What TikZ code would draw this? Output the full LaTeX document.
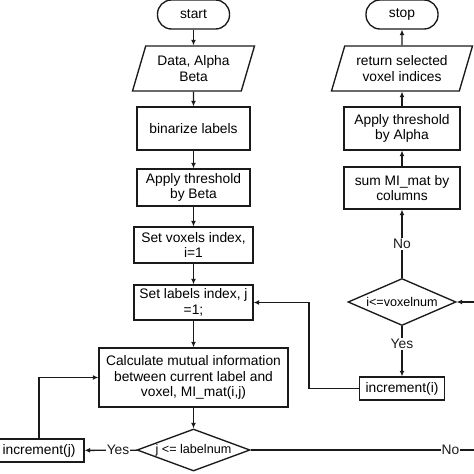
\documentclass[tikz,border=0pt]{standalone}
\usepackage{fontspec}
\setmainfont{Liberation Sans}
\usetikzlibrary{arrows.meta,shapes.geometric}
\definecolor{ink}{HTML}{1A1A1A}
\newcommand{\boxfont}{\fontsize{13.8}{15.8}\selectfont}
\newcommand{\decfont}{\fontsize{12.6}{14}\selectfont}
\tikzset{
  flowarr/.style={-{Latex[length=5.5pt,width=5pt]},line width=1.35pt,color=ink},
  termcard/.style={draw=ink,line width=1.35pt,rounded corners=14pt,minimum width=72pt,minimum height=29pt,inner sep=0pt,font=\boxfont},
  proccard/.style={draw=ink,line width=1.35pt,align=center,inner sep=0pt,font=\boxfont},
  iocard/.style={draw=ink,line width=1.35pt,trapezium,trapezium left angle=63,trapezium right angle=117,trapezium stretches body,align=center,inner sep=0pt,font=\boxfont},
  deccard/.style={draw=ink,line width=1.35pt,diamond,inner sep=0pt,font=\decfont},
  lbl/.style={fill=white,inner sep=1pt,font=\boxfont}
}

\begin{document}
\begin{tikzpicture}[x=1pt,y=-1pt]
  \useasboundingbox (0,0) rectangle (474,474);

  % left column
  \node[termcard] (start) at (193.5,14.5) {start};
  \node[iocard,minimum width=122pt,minimum height=45pt] (data) at (193.5,68.5) {Data, Alpha\\Beta};
  \node[proccard,minimum width=113pt,minimum height=43pt] (bin) at (193.5,128.5) {binarize labels};
  \node[proccard,minimum width=113pt,minimum height=37pt] (beta) at (193.5,187.5) {Apply threshold\\by Beta};
  \node[proccard,minimum width=119pt,minimum height=36pt] (setvox) at (193.5,245) {Set voxels index,\\i=1};
  \node[proccard,minimum width=119pt,minimum height=35pt] (setlab) at (193.5,302.5) {Set labels index, j\\=1;};
  \node[proccard,minimum width=189pt,minimum height=59pt] (calc) at (193.5,377.5) {Calculate mutual information\\between current label and\\voxel, MI\_mat(i,j)};
  \node[deccard,minimum width=113pt,minimum height=42pt] (decj) at (193.5,450) {\makebox[0pt]{j <= labelnum}};
  \node[proccard,minimum width=90pt,minimum height=23pt] (incj) at (39,450.5) {increment(j)};

  % right column
  \node[termcard] (stop) at (402,14.5) {stop};
  \node[iocard,minimum width=141pt,minimum height=45pt] (ret) at (402,68.5) {return selected\\voxel indices};
  \node[proccard,minimum width=116pt,minimum height=43pt] (alpha) at (402,128.5) {Apply threshold\\by Alpha};
  \node[proccard,minimum width=116pt,minimum height=42pt] (sum) at (402,188) {sum MI\_mat by\\columns};
  \node[deccard,minimum width=108pt,minimum height=47pt] (deci) at (402,302) {\makebox[0pt]{i<=voxelnum}};
  \node[proccard,minimum width=85pt,minimum height=23pt] (inci) at (402,388.5) {increment(i)};

  \coordinate (offR) at (510,450);
  \coordinate (turnI) at (309,388.5);

  \draw[flowarr] (start) -- (data);
  \draw[flowarr] (data) -- (bin);
  \draw[flowarr] (bin) -- (beta);
  \draw[flowarr] (beta) -- (setvox);
  \draw[flowarr] (setvox) -- (setlab);
  \draw[flowarr] (setlab) -- (calc);
  \draw[flowarr] (calc) -- (decj);
  \draw[flowarr] (decj) -- node[lbl,pos=0.36]{Yes} (incj);
  \draw[flowarr] (incj.north) |- (calc.west);
  \draw[flowarr] (decj.east) -- node[lbl,pos=0.77]{No} (offR) |- (deci.east);

  \draw[flowarr] (deci) -- node[lbl]{No} (sum);
  \draw[flowarr] (deci) -- node[lbl,pos=0.35]{Yes} (inci);
  \draw[flowarr] (inci.west) -- (turnI) |- (setlab.east);
  \draw[flowarr] (sum) -- (alpha);
  \draw[flowarr] (alpha) -- (ret);
  \draw[flowarr] (ret) -- (stop);
\end{tikzpicture}
\end{document}
